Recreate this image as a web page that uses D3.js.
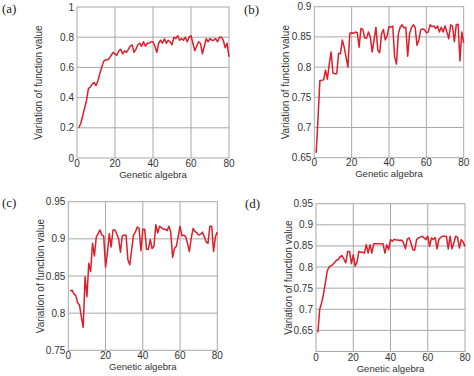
<!DOCTYPE html>
<html>
<head>
<meta charset="utf-8">
<script src="https://cdn.jsdelivr.net/npm/d3@7"></script>
<style>
  body { margin: 0; background: #fff; }
  svg { display: block; }
</style>
</head>
<body>
<svg id="chart" width="474" height="376"></svg>
<script>
// generations 1..80, four runs
const generations = d3.range(1, 81);
const xTicks = [0, 20, 40, 60, 80];

const valuesA = [0.20, 0.23, 0.28, 0.33, 0.38, 0.46, 0.47, 0.49, 0.50, 0.48,
  0.51, 0.56, 0.60, 0.64, 0.65, 0.65, 0.66, 0.68, 0.70, 0.69,
  0.68, 0.71, 0.72, 0.69, 0.71, 0.70, 0.72, 0.74, 0.75, 0.70,
  0.72, 0.75, 0.76, 0.74, 0.77, 0.74, 0.76, 0.76, 0.77, 0.77,
  0.74, 0.70, 0.76, 0.78, 0.76, 0.79, 0.76, 0.78, 0.77, 0.75,
  0.80, 0.79, 0.81, 0.78, 0.79, 0.78, 0.80, 0.77, 0.80, 0.81,
  0.76, 0.71, 0.74, 0.77, 0.76, 0.69, 0.74, 0.79, 0.77, 0.79,
  0.78, 0.78, 0.79, 0.77, 0.80, 0.80, 0.78, 0.73, 0.76, 0.67];

const valuesB = [0.658, 0.716, 0.778, 0.778, 0.779, 0.795, 0.780, 0.805, 0.825, 0.790,
  0.789, 0.789, 0.823, 0.822, 0.845, 0.833, 0.816, 0.800, 0.856, 0.857,
  0.856, 0.858, 0.857, 0.833, 0.864, 0.862, 0.848, 0.848, 0.858, 0.850,
  0.825, 0.845, 0.866, 0.828, 0.824, 0.855, 0.862, 0.845, 0.852, 0.867,
  0.866, 0.868, 0.817, 0.805, 0.855, 0.866, 0.870, 0.865, 0.866, 0.818,
  0.855, 0.865, 0.870, 0.866, 0.836, 0.845, 0.862, 0.863, 0.862, 0.857,
  0.858, 0.870, 0.867, 0.868, 0.864, 0.868, 0.858, 0.866, 0.858, 0.868,
  0.858, 0.847, 0.870, 0.868, 0.842, 0.870, 0.871, 0.810, 0.858, 0.840];

const valuesC = [0.830, 0.831, 0.826, 0.824, 0.814, 0.811, 0.795, 0.781, 0.849, 0.822,
  0.867, 0.856, 0.894, 0.877, 0.902, 0.907, 0.912, 0.905, 0.904, 0.862,
  0.881, 0.907, 0.889, 0.912, 0.912, 0.907, 0.900, 0.882, 0.904, 0.905,
  0.905, 0.872, 0.865, 0.885, 0.905, 0.909, 0.916, 0.914, 0.884, 0.913,
  0.913, 0.886, 0.886, 0.899, 0.887, 0.890, 0.919, 0.908, 0.917, 0.915,
  0.913, 0.913, 0.911, 0.917, 0.909, 0.875, 0.887, 0.890, 0.903, 0.917,
  0.904, 0.905, 0.903, 0.894, 0.883, 0.901, 0.914, 0.910, 0.908, 0.905,
  0.906, 0.909, 0.903, 0.896, 0.894, 0.917, 0.917, 0.883, 0.903, 0.909];

const valuesD = [0.645, 0.700, 0.715, 0.735, 0.762, 0.790, 0.800, 0.803, 0.806, 0.811,
  0.816, 0.818, 0.825, 0.827, 0.819, 0.810, 0.837, 0.837, 0.808, 0.829,
  0.802, 0.811, 0.837, 0.835, 0.835, 0.833, 0.853, 0.833, 0.853, 0.833,
  0.855, 0.855, 0.855, 0.855, 0.855, 0.855, 0.833, 0.853, 0.841, 0.865,
  0.861, 0.866, 0.864, 0.864, 0.863, 0.864, 0.857, 0.843, 0.866, 0.869,
  0.857, 0.841, 0.840, 0.865, 0.869, 0.871, 0.873, 0.869, 0.865, 0.873,
  0.849, 0.869, 0.865, 0.870, 0.843, 0.866, 0.870, 0.873, 0.873, 0.873,
  0.843, 0.873, 0.843, 0.857, 0.873, 0.871, 0.845, 0.865, 0.859, 0.849];

const yTicksA = [0, 0.2, 0.4, 0.6, 0.8, 1];
const yTicksB = [0.65, 0.7, 0.75, 0.8, 0.85, 0.9];
const yTicksC = [0.75, 0.8, 0.85, 0.9, 0.95];
const yTicksD = [0.65, 0.7, 0.75, 0.8, 0.85, 0.9, 0.95];

const LINE_COLOR = '#dc1f2b';
const GRID_COLOR = '#a8a8a8';
const TEXT_COLOR = '#333';
const SANS = '"Liberation Sans", Arial, sans-serif';
const SERIF = '"Liberation Serif", "Times New Roman", serif';

const panels = [
  { tag: '(a)', tagX: 2, tagY: 13, box: [77, 229, 7, 158], yDomain: [0, 1], yTicks: yTicksA, values: valuesA,
    yLabelX: 38, xTickY: 166.5, xLabelY: 177.5 },
  { tag: '(b)', tagX: 244, tagY: 14, box: [314.3, 463.7, 6.7, 157.7], yDomain: [0.65, 0.9], yTicks: yTicksB, values: valuesB,
    yLabelX: 285, xTickY: 166, xLabelY: 177 },
  { tag: '(c)', tagX: 2, tagY: 206.5, box: [68.3, 217.3, 201.7, 350.3], yDomain: [0.75, 0.95], yTicks: yTicksC, values: valuesC,
    yLabelX: 40.5, xTickY: 358.5, xLabelY: 370 },
  { tag: '(d)', tagX: 245, tagY: 207.5, box: [316, 465, 203.7, 351.5], yDomain: [0.6, 0.95], yTicks: yTicksD, values: valuesD,
    yLabelX: 288.5, xTickY: 360.5, xLabelY: 372 }
];

const svg = d3.select('#chart');

panels.forEach(p => {
  const [x0, x1, y0, y1] = p.box;
  const x = d3.scaleLinear().domain([0, 80]).range([x0, x1]);
  const y = d3.scaleLinear().domain(p.yDomain).range([y1, y0]);
  const g = svg.append('g');

  // grid
  g.selectAll('.vgrid').data(xTicks.slice(1, -1)).enter().append('line')
    .attr('x1', d => x(d)).attr('x2', d => x(d))
    .attr('y1', y0).attr('y2', y1)
    .attr('stroke', GRID_COLOR).attr('stroke-width', 1);
  g.selectAll('.hgrid').data(p.yTicks.filter(t => y(t) > y0 + 1 && y(t) < y1 - 1)).enter().append('line')
    .attr('x1', x0).attr('x2', x1)
    .attr('y1', d => y(d)).attr('y2', d => y(d))
    .attr('stroke', GRID_COLOR).attr('stroke-width', 1);

  g.append('rect')
    .attr('x', x0).attr('y', y0)
    .attr('width', x1 - x0).attr('height', y1 - y0)
    .attr('fill', 'none').attr('stroke', GRID_COLOR).attr('stroke-width', 1);

  // tick labels
  g.selectAll('.xt').data(xTicks).enter().append('text')
    .attr('x', d => x(d)).attr('y', p.xTickY)
    .attr('text-anchor', 'middle')
    .style('font-family', SANS).style('font-size', '10px').attr('fill', TEXT_COLOR)
    .text(d => d);
  g.selectAll('.yt').data(p.yTicks).enter().append('text')
    .attr('x', x0 - 3).attr('y', d => y(d) + 3.5)
    .attr('text-anchor', 'end')
    .style('font-family', SANS).style('font-size', '10px').attr('fill', TEXT_COLOR)
    .text(d => d);

  // axis titles
  g.append('text')
    .attr('x', (x0 + x1) / 2).attr('y', p.xLabelY)
    .attr('text-anchor', 'middle')
    .style('font-family', SANS).style('font-size', '9.6px').attr('fill', TEXT_COLOR)
    .text('Genetic algebra');
  g.append('text')
    .attr('transform', `translate(${p.yLabelX},${(y0 + y1) / 2}) rotate(-90)`)
    .attr('text-anchor', 'middle').attr('dy', '0.35em')
    .style('font-family', SANS).style('font-size', '10px').attr('fill', TEXT_COLOR)
    .text('Variation of function value');

  g.append('text')
    .attr('x', p.tagX).attr('y', p.tagY)
    .style('font-family', SERIF).style('font-size', '13px').attr('fill', '#222')
    .text(p.tag);

  const line = d3.line()
    .x((d, i) => x(generations[i]))
    .y(d => y(d));
  g.append('path')
    .datum(p.values)
    .attr('d', line)
    .attr('fill', 'none')
    .attr('stroke', LINE_COLOR)
    .attr('stroke-width', 1.5)
    .attr('stroke-linejoin', 'round');
});
</script>
</body>
</html>
